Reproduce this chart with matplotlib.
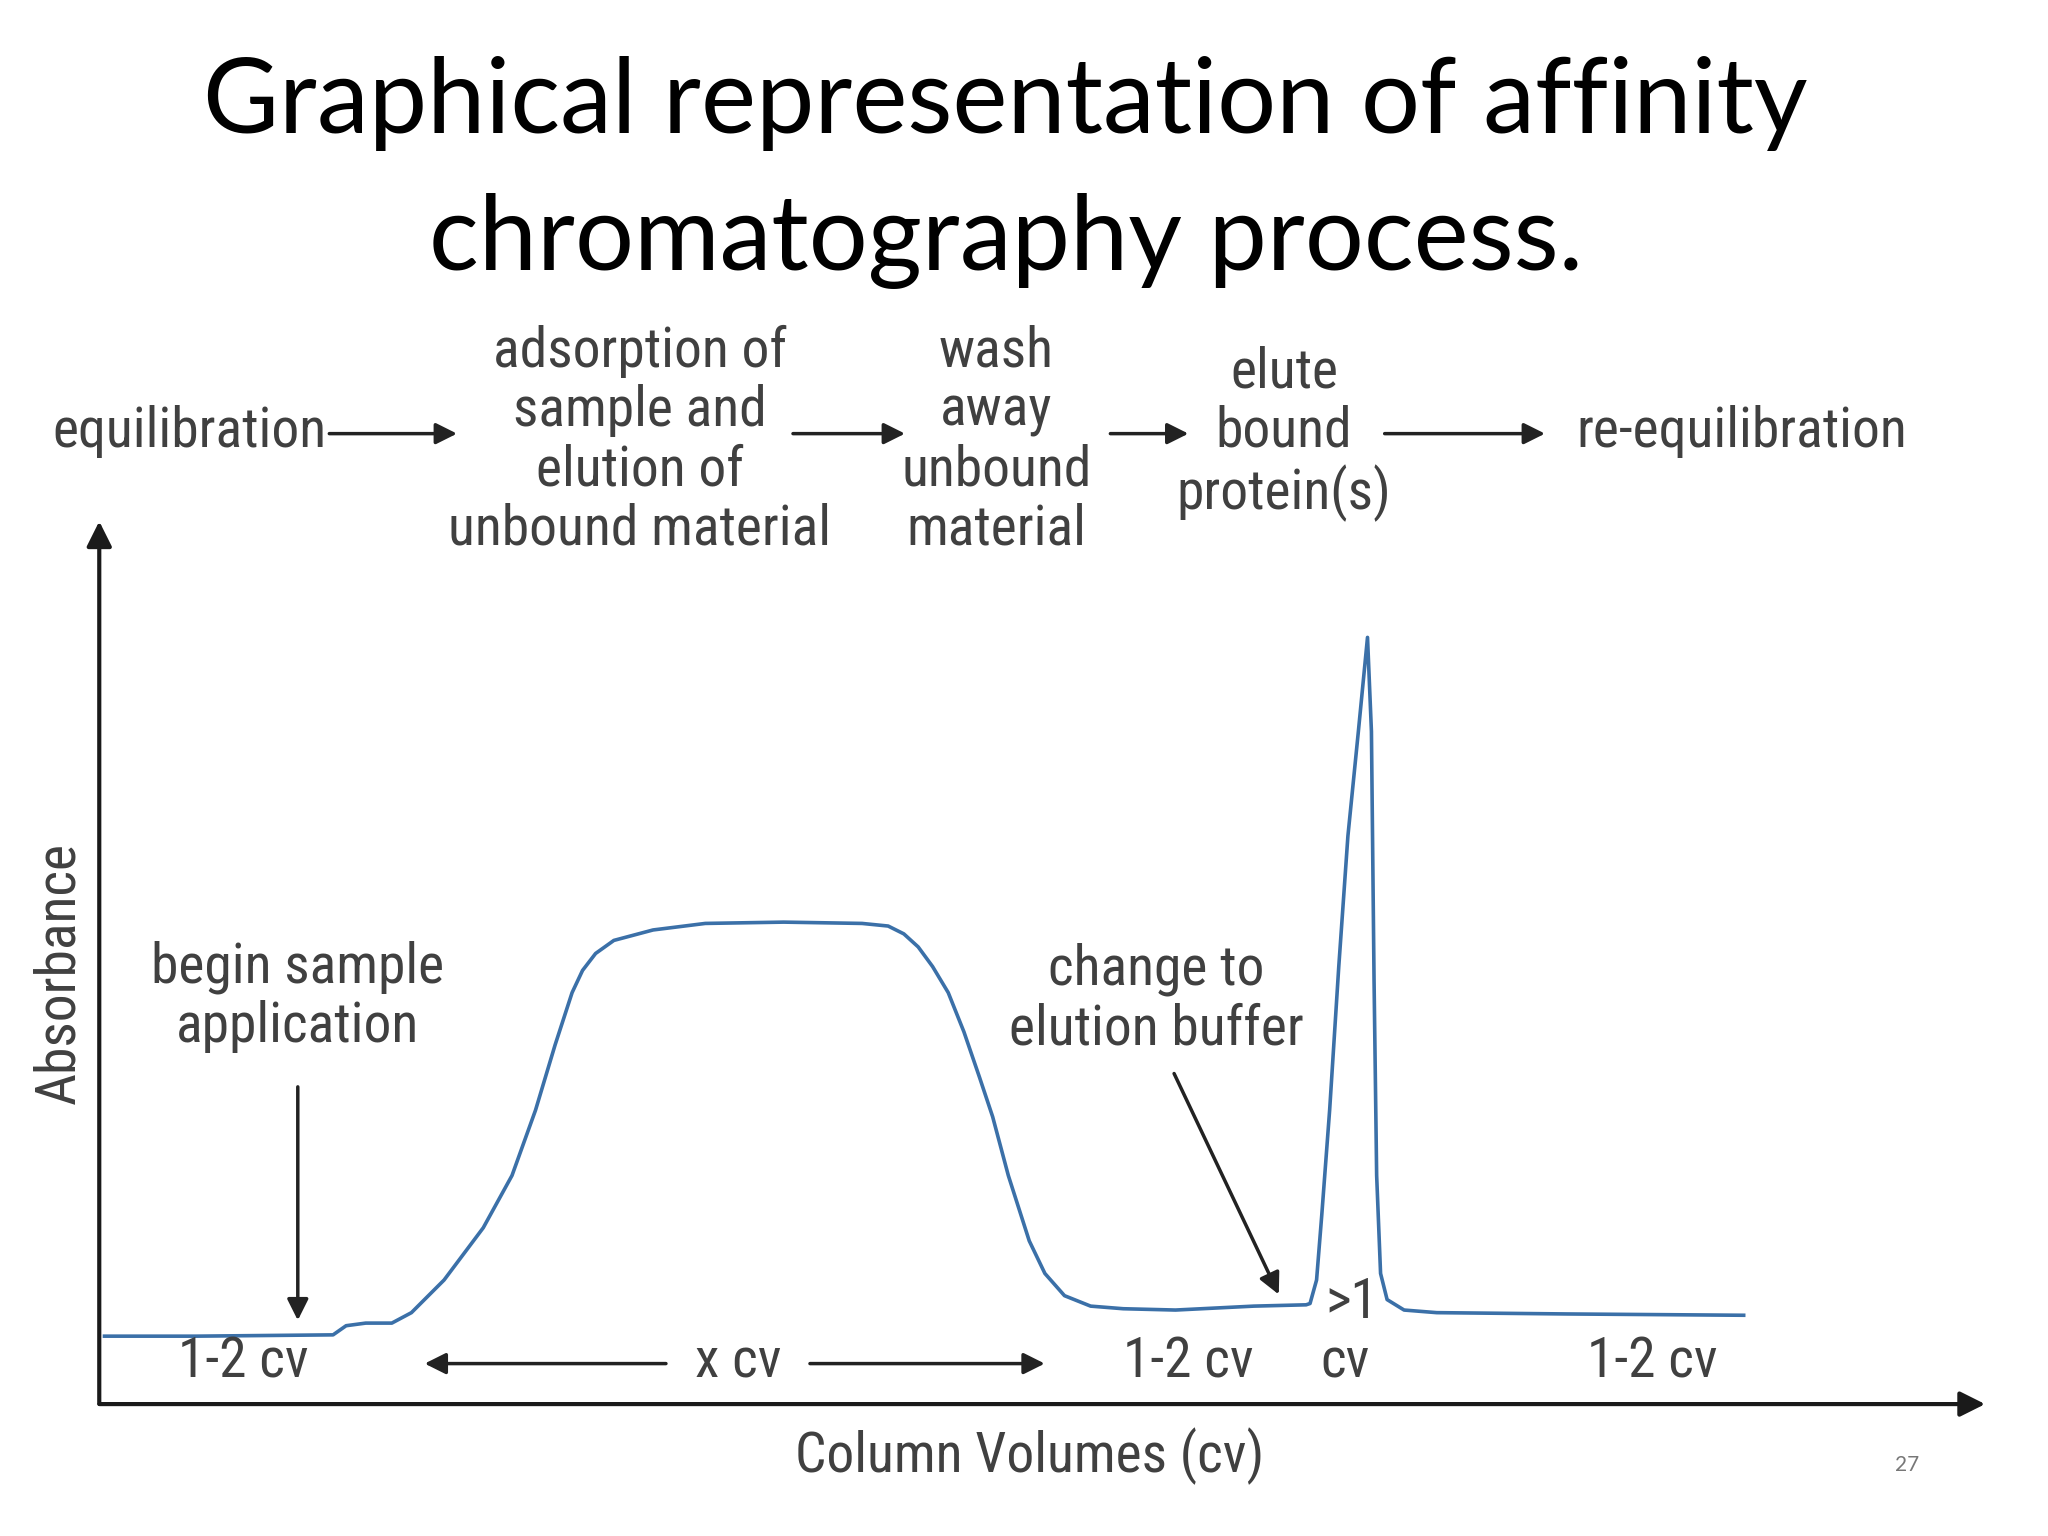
import matplotlib.pyplot as plt

# Curve (x in column volumes, y in absorbance units)
curve_x = [0.04, 0.74, 1.79, 1.89, 2.04, 2.24, 2.39, 2.64, 2.94, 3.16, 3.34, 3.49,
           3.62, 3.70, 3.80, 3.94, 4.24, 4.64, 5.24, 5.84, 6.04, 6.16, 6.27, 6.38,
           6.50, 6.62, 6.74, 6.84, 6.96, 7.12, 7.24, 7.39, 7.59, 7.84, 8.24, 8.84,
           9.24, 9.27, 9.32, 9.36, 9.42, 9.49, 9.56, 9.64, 9.71, 9.74, 9.76, 9.78,
           9.81, 9.86, 9.99, 10.24, 11.24, 12.59]
curve_y = [0.52, 0.52, 0.53, 0.60, 0.62, 0.62, 0.70, 0.95, 1.35, 1.75, 2.25, 2.75,
           3.15, 3.32, 3.45, 3.55, 3.63, 3.68, 3.69, 3.68, 3.66, 3.60, 3.50, 3.35,
           3.15, 2.85, 2.50, 2.20, 1.75, 1.25, 1.00, 0.83, 0.75, 0.73, 0.72, 0.75,
           0.76, 0.77, 0.95, 1.45, 2.25, 3.35, 4.35, 5.15, 5.87, 5.15, 3.25, 1.75,
           1.00, 0.80, 0.72, 0.70, 0.69, 0.68]

steps = ['equilibration', 'adsorption of\nsample and\nelution of\nunbound material',
         'wash\naway\nunbound\nmaterial', 'elute\nbound\nprotein(s)', 're-equilibration']
step_x = [-0.36, 4.14, 6.87, 9.07, 11.31]
step_y = [7.45, 7.38, 7.38, 7.43, 7.45]
step_ha = ['left', 'center', 'center', 'center', 'left']
step_arrows = [(1.74, 2.76), (5.29, 6.19), (7.72, 8.36), (9.82, 11.09)]

seg_labels = ['1-2 cv', 'x cv', '1-2 cv', 'cv', '1-2 cv']
seg_x = [1.10, 4.89, 8.34, 9.54, 11.89]

lab_font = ['Roboto Condensed', 'DejaVu Sans']
lab_col = '#404040'
lab_size = 40
blue = '#3b70a8'

fig = plt.figure(figsize=(20.48, 15.36), dpi=100)
ax = fig.add_axes([0, 0, 1, 1])
ax.set_xlim(-0.76, 14.92)
ax.set_ylim(-1.01, 10.75)
ax.axis('off')

# title
ax.text(6.94, 9.43, 'Graphical representation of affinity\nchromatography process.',
        ha='center', va='center', fontsize=75, family=['Lato', 'DejaVu Sans'],
        linespacing=1.55, color='black')

# axes with arrows
ax.annotate('', xy=(14.46, 0), xytext=(-0.02, 0),
            arrowprops=dict(arrowstyle='-|>', lw=3, color='#1a1a1a', mutation_scale=38))
ax.annotate('', xy=(0, 6.78), xytext=(0, -0.02),
            arrowprops=dict(arrowstyle='-|>', lw=3, color='#1a1a1a', mutation_scale=38))

ax.plot(curve_x, curve_y, color=blue, lw=2.6, solid_joinstyle='round')

# process steps along top
for t, x, y, h in zip(steps, step_x, step_y, step_ha):
    ax.text(x, y, t, ha=h, va='center', fontsize=lab_size, family=lab_font,
            color=lab_col, linespacing=1.15)
for x0, x1 in step_arrows:
    ax.annotate('', xy=(x1, 7.43), xytext=(x0, 7.43),
                arrowprops=dict(arrowstyle='-|>', lw=2.5, color='#222222', mutation_scale=32))

# annotations
ax.text(1.52, 3.12, 'begin sample\napplication', ha='center', va='center', fontsize=lab_size,
        family=lab_font, color=lab_col, linespacing=1.15)
ax.annotate('', xy=(1.52, 0.62), xytext=(1.52, 2.45),
            arrowprops=dict(arrowstyle='-|>', lw=2.5, color='#222222', mutation_scale=32))
ax.text(8.09, 3.10, 'change to\nelution buffer', ha='center', va='center', fontsize=lab_size,
        family=lab_font, color=lab_col, linespacing=1.15)
ax.annotate('', xy=(9.04, 0.82), xytext=(8.22, 2.55),
            arrowprops=dict(arrowstyle='-|>', lw=2.5, color='#222222', mutation_scale=32))

# segment labels under the curve
for t, x in zip(seg_labels, seg_x):
    ax.text(x, 0.32, t, ha='center', va='center', fontsize=lab_size, family=lab_font, color=lab_col)
ax.text(9.59, 0.78, '>1', ha='center', va='center', fontsize=lab_size, family=lab_font, color=lab_col)
ax.annotate('', xy=(2.47, 0.31), xytext=(4.36, 0.31),
            arrowprops=dict(arrowstyle='-|>', lw=2.5, color='#222222', mutation_scale=32))
ax.annotate('', xy=(7.26, 0.31), xytext=(5.42, 0.31),
            arrowprops=dict(arrowstyle='-|>', lw=2.5, color='#222222', mutation_scale=32))

ax.text(7.12, -0.40, 'Column Volumes (cv)', ha='center', va='center', fontsize=lab_size,
        family=lab_font, color=lab_col)
ax.text(-0.31, 3.30, 'Absorbance', ha='center', va='center', rotation=90, fontsize=40,
        family=lab_font, color=lab_col)
ax.text(13.84, -0.47, '27', ha='center', va='center', fontsize=15,
        family=['Lato', 'DejaVu Sans'], color='#777777')

fig.savefig('out.png', dpi=100)
